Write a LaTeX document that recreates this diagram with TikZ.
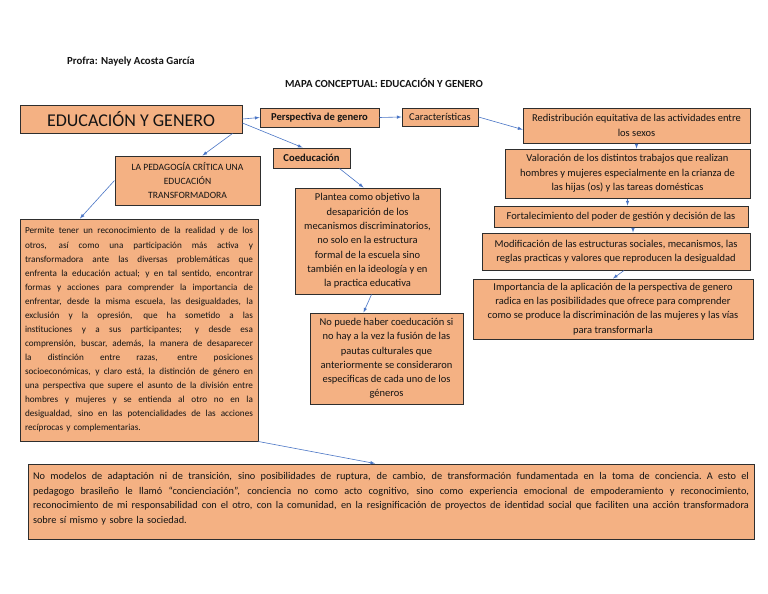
\documentclass[tikz,border=0pt]{standalone}
\usepackage{fontspec}
\setmainfont{Carlito}
\usepackage{tikz}
\definecolor{boxfill}{HTML}{F4B183}
\definecolor{boxline}{HTML}{2E2E2E}
\definecolor{arrowblue}{HTML}{4A76C6}
\definecolor{ink}{HTML}{141414}
\newcommand\jl[1]{\leavevmode\hbox to \hsize{\spaceskip=\fontdimen2\font plus 1fil\relax#1}}
\tikzset{
  box/.style={draw=boxline,fill=boxfill,line width=1pt,inner sep=0pt,align=center,text=ink,font=\fontsize{10.5}{14.3}\selectfont},
  jbox/.style={box,align=left,inner xsep=5pt,inner ysep=0pt},
  head/.style={text=ink,font=\fontsize{10.8}{12}\selectfont\bfseries},
  arr/.style={->,draw=arrowblue,line width=0.6pt}
}
\begin{document}
\begin{tikzpicture}[>=latex,x=1pt,y=-1pt]
  \fill[white] (0,0) rectangle (768,594);
  \useasboundingbox (0,0) rectangle (768,594);
  \node[head] (profra) at (131,62) {Profra: Nayely Acosta García};
  \node[head] (mapa) at (384,83) {MAPA CONCEPTUAL: EDUCACIÓN Y GENERO};
  % centro del mapa
  \node[box,minimum width=222,minimum height=28,font=\fontsize{18}{20}\selectfont] (edu) at (131,119) {EDUCACIÓN Y GENERO};
  \node[box,minimum width=119,minimum height=19,font=\fontsize{10.6}{12}\selectfont\bfseries] (persp) at (319.5,117.5) {Perspectiva de genero};
  \node[box,minimum width=76,minimum height=18] (caract) at (440,117) {Características};
  \node[box,minimum width=77,minimum height=20,font=\fontsize{10.6}{12}\selectfont\bfseries] (coedu) at (311.5,158) {Coeducación};
  \node[box,minimum width=145,minimum height=49,font=\fontsize{9.6}{14.3}\selectfont] (pedag) at (187.5,180.5) {LA PEDAGOGÍA CRÍTICA UNA\\EDUCACIÓN\\TRANSFORMADORA};
  % caracteristicas
  \node[box,minimum width=227,minimum height=35] (redis) at (636.5,125.5) {Redistribución equitativa de las actividades entre\\los sexos};
  \node[box,minimum width=245,minimum height=49] (valor) at (627.5,173.5) {Valoración de los distintos trabajos que realizan\\hombres y mujeres especialmente en la crianza de\\las hijas (os) y las tareas domésticas};
  \node[box,minimum width=254,minimum height=21] (fort) at (621,216.5) {Fortalecimiento del poder de gestión y decisión de las};
  \node[box,minimum width=268,minimum height=37] (modif) at (616,251.5) {Modificación de las estructuras sociales, mecanismos, las\\reglas practicas y valores que reproducen la desigualdad};
  \node[box,minimum width=280,minimum height=60] (impor) at (613,309) {Importancia de la aplicación de la perspectiva de genero\\radica en las posibilidades que ofrece para comprender\\como se produce la discriminación de las mujeres y las vías\\para transformarla};
  % coeducacion
  \node[box,minimum width=145,minimum height=106] (plant) at (367.5,241) {Plantea como objetivo la\\desaparición de los\\mecanismos discriminatorios,\\no solo en la estructura\\formal de la escuela sino\\también en la ideología y en\\la practica educativa};
  \node[box,minimum width=153,minimum height=91] (nopue) at (386.5,358.5) {No puede haber coeducación si\\no hay a la vez la fusión de las\\pautas culturales que\\anteriormente se consideraron\\especificas de cada uno de los\\géneros};
  % pedagogia critica
  \node[jbox,text width=228,minimum height=222,font=\fontsize{9.2}{14.07}\selectfont] (permi) at (139,330) {%
    \jl{Permite tener un reconocimiento de la realidad y de los}\\
    \jl{otros, así como una participación más activa y}\\
    \jl{transformadora ante las diversas problemáticas que}\\
    \jl{enfrenta la educación actual; y en tal sentido, encontrar}\\
    \jl{formas y acciones para comprender la importancia de}\\
    \jl{enfrentar, desde la misma escuela, las desigualdades, la}\\
    \jl{exclusión y la opresión, que ha sometido a las}\\
    \jl{instituciones y a sus participantes; y desde esa}\\
    \jl{comprensión, buscar, además, la manera de desaparecer}\\
    \jl{la distinción entre razas, entre posiciones}\\
    \jl{socioeconómicas, y claro está, la distinción de género en}\\
    \jl{una perspectiva que supere el asunto de la división entre}\\
    \jl{hombres y mujeres y se entienda al otro no en la}\\
    \jl{desigualdad, sino en las potencialidades de las acciones}\\
    recíprocas y complementarias.};
  \node[jbox,text width=716,minimum height=75,font=\fontsize{10.3}{14.5}\selectfont] (nomod) at (391,501.5) {%
    \jl{No modelos de adaptación ni de transición, sino posibilidades de ruptura, de cambio, de transformación fundamentada en la toma de conciencia. A esto el}\\
    \jl{pedagogo brasileño le llamó “concienciación”, conciencia no como acto cognitivo, sino como experiencia emocional de empoderamiento y reconocimiento,}\\
    \jl{reconocimiento de mi responsabilidad con el otro, con la comunidad, en la resignificación de proyectos de identidad social que faciliten una acción transformadora}\\
    sobre sí mismo y sobre la sociedad.\\[-7pt]
    \mbox{}};
  % conectores
  \draw[arr] (edu.east) -- (persp.west);
  \draw[arr] ([yshift=-4pt]edu.east) -- ([xshift=-9pt]coedu.north);
  \draw[arr] ([xshift=-10pt]edu.south east) -- ([xshift=15pt]pedag.north);
  \draw[arr] (pedag.west) -- ([xshift=-59pt]permi.north);
  \draw[arr] (persp.east) -- (caract.west);
  \draw[arr] (caract.east) -- ([yshift=-4pt]redis.west);
  \draw[arr] (redis.south) -- (redis.south |- valor.north);
  \draw[arr] (valor.south) -- (valor.south |- fort.north);
  \draw[arr] ([xshift=12pt]fort.south) -- ([xshift=12pt]fort.south |- modif.north);
  \draw[arr] ([xshift=8pt]modif.south) -- (impor.north);
  \draw[arr] ([xshift=28pt]coedu.south) -- ([xshift=-4pt]plant.north);
  \draw[arr] ([xshift=4pt]plant.south) -- ([xshift=-23pt]nopue.north);
  \draw[arr] (permi.south east) -- ([xshift=-16pt]nomod.north);
\end{tikzpicture}
\end{document}
